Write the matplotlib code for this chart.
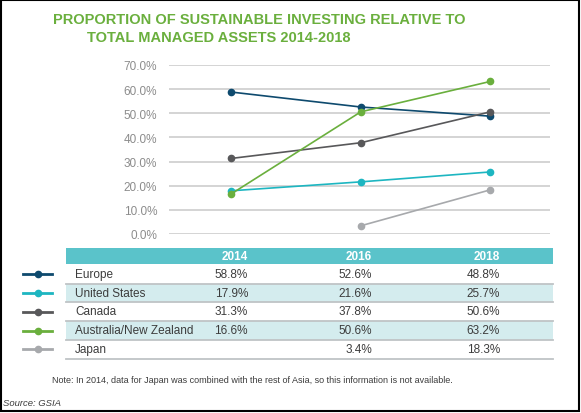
import numpy as np
import matplotlib.pyplot as plt
from matplotlib.patches import Rectangle

plt.rcParams['font.family'] = ['Liberation Sans', 'DejaVu Sans']

years = ['2014', '2016', '2018']
regions = ['Europe', 'United States', 'Canada', 'Australia/New Zealand', 'Japan']
europe = [58.8, 52.6, 48.8]
united_states = [17.9, 21.6, 25.7]
canada = [31.3, 37.8, 50.6]
aus_nz = [16.6, 50.6, 63.2]
japan = [np.nan, 3.4, 18.3]
colors = ['#0e4a6e', '#1db6c1', '#58585a', '#6aaf3d', '#a7a9ac']
series = [europe, united_states, canada, aus_nz, japan]

W, H = 581, 414
fig = plt.figure(figsize=(W / 100, H / 100), dpi=100)

# line chart
ax = fig.add_axes([169 / W, (H - 235) / H, 381 / W, 169 / H])
x = np.arange(len(years))
for vals, c in zip(series, colors):
    ax.plot(x, vals, color=c, lw=1.2, marker='o', ms=4.5, clip_on=False, zorder=3)
ax.set_xlim(-0.48, 2.46)
ax.set_ylim(0, 70)
ax.set_yticks(np.arange(0, 71, 10))
ax.set_yticklabels([f'{v:.1f}%' for v in range(0, 71, 10)], color='#8c8c8c', fontsize=8.5)
ax.set_xticks([])
ax.tick_params(axis='y', length=0, pad=8.5)
ax.yaxis.grid(True, color='#d4d4d4', lw=1.4)
ax.set_axisbelow(True)
for s in ax.spines.values():
    s.set_visible(False)

# overlay in pixel coordinates for title, table and notes
ov = fig.add_axes([0, 0, 1, 1], zorder=-1)
ov.set_xlim(0, W)
ov.set_ylim(H, 0)
ov.axis('off')

green = '#6aaf3d'
ov.text(53, 20, 'PROPORTION OF SUSTAINABLE INVESTING RELATIVE TO', color=green,
        fontsize=10.5, fontweight='bold', va='center', ha='left')
ov.text(87, 38, 'TOTAL MANAGED ASSETS 2014-2018', color=green,
        fontsize=10.5, fontweight='bold', va='center', ha='left')

# table
tl, tr = 66, 553
col_c = [235, 359, 487]
col_r = [248, 372, 500]
bounds = [265, 284.5, 303, 322, 341, 359.5]
ov.add_patch(Rectangle((tl, 249), tr - tl, 16, color='#5ac3ca', lw=0))
for yr, cx in zip(years, col_c):
    ov.text(cx, 257, yr, color='white', fontsize=8.5, fontweight='bold',
            ha='center', va='center')

for i, (name, vals, c) in enumerate(zip(regions, series, colors)):
    y0, y1 = bounds[i], bounds[i + 1]
    yc = (y0 + y1) / 2
    if i % 2 == 1:
        ov.add_patch(Rectangle((tl, y0), tr - tl, y1 - y0, color='#d4ecee', lw=0))
    ov.plot([tl, tr], [y1, y1], color='#bfc4c6', lw=1.3)
    ov.plot([23, 52], [yc, yc], color=c, lw=2)
    ov.plot([37.5], [yc], 'o', color=c, ms=4.5)
    ov.text(75, yc, name, color='#3c3c3c', fontsize=8.5, ha='left', va='center')
    for v, rx in zip(vals, col_r):
        if not np.isnan(v):
            ov.text(rx, yc, f'{v:.1f}%', color='#3c3c3c', fontsize=8.5,
                    ha='right', va='center')

ov.text(52, 380.5, 'Note: In 2014, data for Japan was combined with the rest of Asia, '
        'so this information is not available.', color='#3c3c3c', fontsize=6.5,
        ha='left', va='center')
ov.text(3, 404, 'Source: GSIA', color='#3c3c3c', fontsize=6.8, style='italic',
        ha='left', va='center')

ov.add_patch(Rectangle((1, 0.5), 578, 411.5, fill=False, ec='black', lw=1.5))

fig.savefig('out.png', dpi=100)
